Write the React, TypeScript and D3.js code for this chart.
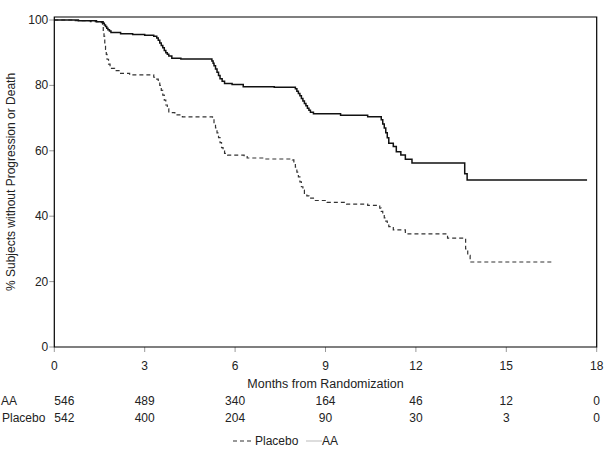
import React from "react";
import * as d3 from "d3";

const xTicks = [0, 3, 6, 9, 12, 15, 18];
const yTicks = [0, 20, 40, 60, 80, 100];

const aaMonths = [0, 0.8, 1.4, 1.62, 1.66, 1.7, 1.74, 1.78, 1.83, 1.88, 2.2, 2.6, 3.0, 3.3, 3.4, 3.45, 3.5, 3.55, 3.6, 3.65, 3.7, 3.75, 3.8, 3.9, 4.2, 5.23, 5.27, 5.3, 5.35, 5.4, 5.45, 5.5, 5.57, 5.65, 5.9, 6.27, 7.3, 8.0, 8.05, 8.1, 8.15, 8.2, 8.25, 8.3, 8.35, 8.4, 8.45, 8.5, 8.6, 9.5, 10.4, 10.85, 10.9, 10.95, 11.0, 11.05, 11.1, 11.25, 11.35, 11.5, 11.65, 11.87, 13.62, 13.7, 17.68];
const aaSurv = [100, 99.8, 99.5, 99, 98.5, 98, 97.5, 97, 96.6, 96.2, 95.8, 95.6, 95.3, 95.0, 94.5, 93.8, 93, 92.2, 91.5, 90.7, 90, 89.5, 89, 88.3, 88.1, 87.5, 86.8, 86, 85, 84, 83, 82, 81.3, 80.6, 80.3, 79.6, 79.4, 79, 78.2, 77.5, 76.8, 76, 75.2, 74.5, 73.8, 73, 72.4, 71.8, 71.3, 70.9, 70.4, 69.5, 68.2, 67, 65.5, 64, 62.3, 61.3, 59.7, 58.7, 57.4, 56.3, 53, 51.1, 51.1];

const plMonths = [0, 0.6, 1.2, 1.5, 1.6, 1.625, 1.65, 1.675, 1.7, 1.725, 1.75, 1.8, 1.85, 2.0, 2.2, 2.5, 3.3, 3.4, 3.45, 3.5, 3.55, 3.6, 3.65, 3.7, 3.75, 3.8, 4.0, 4.25, 5.25, 5.3, 5.35, 5.4, 5.45, 5.5, 5.55, 5.6, 5.65, 5.75, 6.3, 6.4, 7.0, 7.9, 7.95, 8.0, 8.05, 8.1, 8.15, 8.2, 8.25, 8.3, 8.38, 8.45, 8.6, 9.05, 9.7, 10.4, 10.8, 10.85, 10.9, 10.95, 11.0, 11.05, 11.1, 11.25, 11.65, 13.05, 13.65, 13.72, 13.8, 16.55];
const plSurv = [100, 99.8, 99.5, 99.2, 98, 96.5, 95, 93, 91, 89.5, 88, 86.5, 85.2, 84.5, 83.7, 83.2, 82.5, 81.9, 81, 80, 78.5, 77, 75.5, 74, 72.8, 71.7, 71.0, 70.4, 69.8, 68.4, 67, 65.5, 64, 62.5, 61, 60, 59.2, 58.7, 58.2, 57.8, 57.5, 57.2, 56, 55, 53.5, 52, 50.5, 49, 48, 47, 46.2, 45.5, 44.8, 44.2, 43.7, 43.3, 42.5, 41.5, 40.5, 39.5, 38.5, 37.6, 36.8, 35.8, 34.6, 33.3, 30, 28, 26, 26];

const riskTimes = [0, 3, 6, 9, 12, 15, 18];
const riskAA = [546, 489, 340, 164, 46, 12, 0];
const riskPlacebo = [542, 400, 204, 90, 30, 3, 0];

const font = "'Liberation Sans', Arial, sans-serif";

export default function App() {
  const x = d3.scaleLinear().domain([0, 18]).range([54.3, 596.7]);
  const y = d3.scaleLinear().domain([0, 100]).range([347, 20]);
  const line = d3
    .line<[number, number]>()
    .x((d) => x(d[0]))
    .y((d) => y(d[1]))
    .curve(d3.curveStepAfter);
  const aaData: [number, number][] = aaMonths.map((m, i) => [m, aaSurv[i]]);
  const plData: [number, number][] = plMonths.map((m, i) => [m, plSurv[i]]);
  const top = 17;
  const bottom = y(0);
  const left = x(0);
  const right = x(18);
  return (
    <svg
      width={606}
      height={452}
      style={{ position: "absolute", left: 0, top: 0, fontFamily: font }}
    >
      <rect width={606} height={452} fill="#fff" />
      {yTicks.map((t) => (
        <g key={"y" + t}>
          <line x1={left - 5} x2={left} y1={y(t)} y2={y(t)} stroke="#999" />
          <text x={left - 6} y={y(t) + 4} fontSize={12} textAnchor="end" fill="#222">
            {t}
          </text>
        </g>
      ))}
      {xTicks.map((t) => (
        <g key={"x" + t}>
          <line x1={x(t)} x2={x(t)} y1={bottom} y2={bottom + 5} stroke="#999" />
          <text x={x(t)} y={370} fontSize={12} textAnchor="middle" fill="#222">
            {t}
          </text>
        </g>
      ))}
      <path d={line(plData) || ""} fill="none" stroke="#333" strokeWidth={1.2} strokeDasharray="4,3" />
      <path d={line(aaData) || ""} fill="none" stroke="#111" strokeWidth={1.5} />
      <path
        d={`M${left},${top}H${right}V${bottom}H${left}Z`}
        fill="none"
        stroke="#000"
        strokeWidth={1.2}
      />
      <text
        transform={`translate(15,${(top + bottom) / 2}) rotate(-90)`}
        fontSize={12}
        textAnchor="middle"
        fill="#222"
      >
        % Subjects without Progression or Death
      </text>
      <text x={(left + right) / 2} y={388} fontSize={12.5} textAnchor="middle" fill="#222">
        Months from Randomization
      </text>
      <text x={1} y={405} fontSize={12} fill="#222">AA</text>
      <text x={2} y={422} fontSize={12} fill="#222">Placebo</text>
      {riskTimes.map((t, i) => (
        <g key={"r" + t}>
          <text x={x(t)} y={405} fontSize={12} textAnchor={i === 0 ? "start" : "middle"} fill="#222">
            {riskAA[i]}
          </text>
          <text x={x(t)} y={422} fontSize={12} textAnchor={i === 0 ? "start" : "middle"} fill="#222">
            {riskPlacebo[i]}
          </text>
        </g>
      ))}
      <line x1={233} x2={253} y1={441} y2={441} stroke="#333" strokeWidth={1.2} strokeDasharray="4,3" />
      <text x={255} y={445} fontSize={12} fill="#222">Placebo</text>
      <line x1={306} x2={322} y1={441} y2={441} stroke="#bbb" strokeWidth={1} />
      <text x={322} y={445} fontSize={12} fill="#222">AA</text>
    </svg>
  );
}
